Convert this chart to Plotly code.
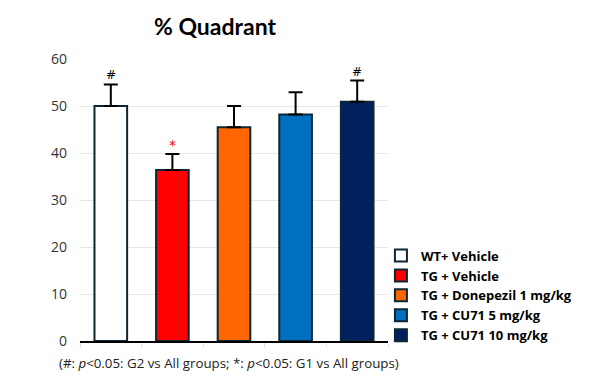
import plotly.graph_objects as go

groups = ["WT+ Vehicle", "TG + Vehicle", "TG + Donepezil 1 mg/kg", "TG + CU71 5 mg/kg", "TG + CU71 10 mg/kg"]
means = [50.0, 36.4, 45.5, 48.2, 50.9]
sems = [4.6, 3.4, 4.5, 4.7, 4.5]
colors = ["#FFFFFF", "#FF0000", "#FF6600", "#0070C0", "#002060"]
marks = ["#", "*", "", "", "#"]
mark_colors = ["#000000", "#FF0000", "#000000", "#000000", "#000000"]
y_ticks = [0, 10, 20, 30, 40, 50, 60]

W, H = 584, 367  # page body has an 8px margin
fig = go.Figure()
for i, g in enumerate(groups):
    fig.add_trace(go.Bar(
        x=[i], y=[means[i]], name=f"<b>{g}</b>",
        marker=dict(color=colors[i], line=dict(color="#0D2633", width=2)),
        error_y=dict(type="data", array=[sems[i]], arrayminus=[0], symmetric=False,
                     color="#000000", thickness=2, width=7),
    ))
    if marks[i]:
        fig.add_annotation(x=i, y=means[i] + sems[i], text=marks[i], showarrow=False,
                           yshift=9, font=dict(size=12 if marks[i] == "#" else 14, color=mark_colors[i],
                                               family="DejaVu Sans"))

fig.add_annotation(xref="paper", yref="paper", x=-0.074, y=-0.04, xanchor="left", yanchor="top",
                   text="(#: <i>p</i><0.05: G2 vs All groups; *: <i>p</i><0.05: G1 vs All groups)",
                   showarrow=False, font=dict(size=13.3, color="#222222", family="Open Sans"))

fig.update_layout(
    width=W, height=H,
    margin=dict(l=72, r=204, t=51, b=34),
    paper_bgcolor="white", plot_bgcolor="white",
    title=dict(text="<b>% Quadrant</b>", x=207 / W, xanchor="center", y=1 - 19 / H, yanchor="middle",
               font=dict(size=23, color="#000000", family="Lato")),
    bargap=0.47, barmode="overlay",
    showlegend=True,
    legend=dict(x=0.977, xanchor="left", y=-0.034, yanchor="bottom",
                font=dict(size=13, color="#000000", family="Open Sans"),
                itemwidth=30, tracegroupgap=0, bgcolor="rgba(0,0,0,0)"),
    font=dict(family="Open Sans"),
)
fig.update_xaxes(range=[-0.5, 4.5], showticklabels=False, showgrid=False,
                 showline=True, linecolor="#000000", linewidth=2,
                 ticks="outside", ticklen=4, tickcolor="#DDDDDD", tickvals=[-0.5, 0.5, 1.5, 2.5, 3.5, 4.5],
                 zeroline=False)
fig.update_yaxes(range=[0, 60], tickvals=y_ticks, showgrid=True, gridcolor="#E6E6E6", gridwidth=1,
                 showline=False, zeroline=False, ticks="", ticklabelstandoff=12,
                 tickfont=dict(size=14, color="#333333", family="Open Sans"))

fig.write_html("out.html")
